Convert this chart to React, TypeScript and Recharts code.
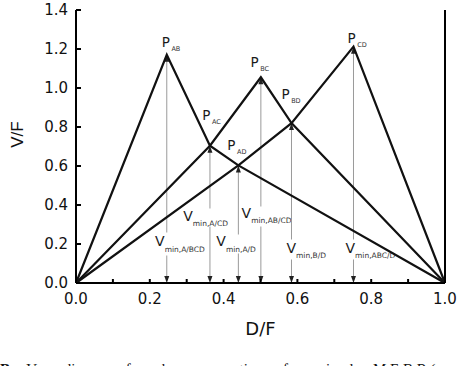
import { ComposedChart, Line, XAxis, YAxis, ReferenceLine, Label } from 'recharts';

// peak / crossing points of the Vmin diagram
const pointNames = ['AB', 'AC', 'AD', 'BC', 'BD', 'CD'];
const pointX = [0.246, 0.363, 0.44, 0.501, 0.584, 0.752];
const pointY = [1.17, 0.704, 0.603, 1.055, 0.82, 1.212];
const vminLabels = ['A/BCD', 'A/CD', 'A/D', 'AB/CD', 'B/D', 'ABC/D'];

// each curve runs from (0,0) through these points to (1,0)
const curvePaths = [
  ['AB', 'AC', 'AD'],
  ['AC', 'BC', 'BD'],
  ['AD', 'BD', 'CD'],
];

const xTicks = [0, 0.1, 0.2, 0.3, 0.4, 0.5, 0.6, 0.7, 0.8, 0.9, 1.0];
const xTickLabels = ['0.0', '', '0.2', '', '0.4', '', '0.6', '', '0.8', '', '1.0'];
const yTicks = [0, 0.2, 0.4, 0.6, 0.8, 1.0, 1.2, 1.4];

// label placement in pixels (style only)
const pLabelOffset = [[-5, -8.3], [-7.7, -26], [-11, -15.7], [-10.3, -10.6], [-10, -24.3], [-6, -4]];
const vLabelStyle = [
  { dx: -11.7, base: 36.7, gap: [50.5, 27.5] },
  { dx: -26.7, base: 62.5, gap: [74.5, 56.5] },
  { dx: -22, base: 36.7, gap: [48.5, 29.5] },
  { dx: -19.3, base: 65.5, gap: [76.5, 56.5] },
  { dx: -5, base: 30.5, gap: [43.5, 23.5] },
  { dx: -8, base: 30.5, gap: [43.5, 23.5] },
];

const font = 'DejaVu Sans';

const curveData = curvePaths.map((names) => [
  { x: 0, y: 0 },
  ...names.map((n) => {
    const i = pointNames.indexOf(n);
    return { x: pointX[i], y: pointY[i] };
  }),
  { x: 1, y: 0 },
]);

const ArrowShape = ({ x1, y1, y2, i }: any) => {
  const v = vLabelStyle[i];
  const p = pLabelOffset[i];
  const gray = '#9a9a9a';
  return (
    <g>
      <line x1={x1} y1={y1 + 5} x2={x1} y2={y2 - v.gap[0]} stroke={gray} strokeWidth={1} />
      <line x1={x1} y1={y2 - v.gap[1]} x2={x1} y2={y2 - 5} stroke={gray} strokeWidth={1} />
      <path d={`M${x1},${y1} l-2.5,7 h5 z`} fill="#222" />
      <path d={`M${x1},${y2} l-2.5,-7 h5 z`} fill="#222" />
      <text x={x1 + p[0]} y={y1 + p[1]} fontFamily={font} fontSize={13.5} fill="#1a1a1a">
        P
        <tspan fontSize={6.5} dx={1.5} dy={4.5} fill="#333">
          {pointNames[i]}
        </tspan>
      </text>
      <text x={x1 + v.dx} y={y2 - v.base} fontFamily={font} fontSize={14} fill="#1a1a1a">
        V
        <tspan fontSize={7.5} dy={5.5} fill="#333">
          {'min,' + vminLabels[i]}
        </tspan>
      </text>
    </g>
  );
};

export default function App() {
  return (
    <div style={{ position: 'absolute', left: 0, top: 0, width: 474, height: 366, background: '#fff', overflow: 'hidden' }}>
      <ComposedChart width={474} height={366} margin={{ top: 10, right: 19, bottom: 53, left: 0 }}>
        <XAxis
          type="number"
          dataKey="x"
          domain={[0, 1]}
          ticks={xTicks}
          tickFormatter={(v: number) => xTickLabels[xTicks.indexOf(v)] ?? ''}
          tickSize={-4}
          tickMargin={14}
          height={30}
          stroke="#000"
          strokeWidth={2}
          tick={{ fill: '#111', fontSize: 15, fontFamily: font }}
          interval={0}
        >
          <Label
            content={({ viewBox }: any) => (
              <text x={viewBox.x + viewBox.width / 2} y={viewBox.y + 52} textAnchor="middle" fontFamily={font} fontSize={18} fill="#111">
                D/F
              </text>
            )}
          />
        </XAxis>
        <XAxis
          xAxisId="top"
          orientation="top"
          type="number"
          dataKey="x"
          domain={[0, 1]}
          ticks={xTicks}
          tick={false}
          tickSize={-4}
          height={0}
          stroke="#000"
          strokeWidth={2}
          interval={0}
        />
        <YAxis
          type="number"
          domain={[0, 1.4]}
          ticks={yTicks}
          tickFormatter={(v: number) => v.toFixed(1)}
          tickSize={-5}
          tickMargin={13}
          width={76}
          stroke="#000"
          strokeWidth={2}
          tick={{ fill: '#111', fontSize: 15, fontFamily: font }}
          interval={0}
        >
          <Label
            content={({ viewBox }: any) => (
              <text
                x={17}
                y={viewBox.y + viewBox.height / 2 - 12}
                transform={`rotate(-90 17 ${viewBox.y + viewBox.height / 2 - 12})`}
                textAnchor="middle"
                dominantBaseline="central"
                fontFamily="Liberation Sans"
                fontSize={17}
                fill="#111"
              >
                V/F
              </text>
            )}
          />
        </YAxis>
        <YAxis
          yAxisId="right"
          orientation="right"
          type="number"
          domain={[0, 1.4]}
          ticks={yTicks}
          tick={false}
          tickSize={-5}
          width={10}
          stroke="#000"
          strokeWidth={2}
          interval={0}
        />
        {pointNames.map((n, i) => (
          <ReferenceLine
            key={n}
            segment={[
              { x: pointX[i], y: pointY[i] },
              { x: pointX[i], y: 0 },
            ]}
            shape={(props: any) => <ArrowShape {...props} i={i} />}
          />
        ))}
        {curveData.map((d, k) => (
          <Line
            key={k}
            data={d}
            dataKey="y"
            type="linear"
            stroke="#111"
            strokeWidth={2.2}
            dot={false}
            activeDot={false}
            isAnimationActive={false}
          />
        ))}
      </ComposedChart>
      <div
        style={{
          position: 'absolute',
          left: 0,
          top: 362,
          whiteSpace: 'nowrap',
          fontFamily: 'Liberation Serif',
          fontSize: 15,
          lineHeight: 1,
          wordSpacing: 9,
          color: '#111',
        }}
      >
        <b>B.</b> V<sub style={{ fontSize: 9 }}>min</sub> diagram for sharp separation of a simple M.E.B.R.(
      </div>
    </div>
  );
}
